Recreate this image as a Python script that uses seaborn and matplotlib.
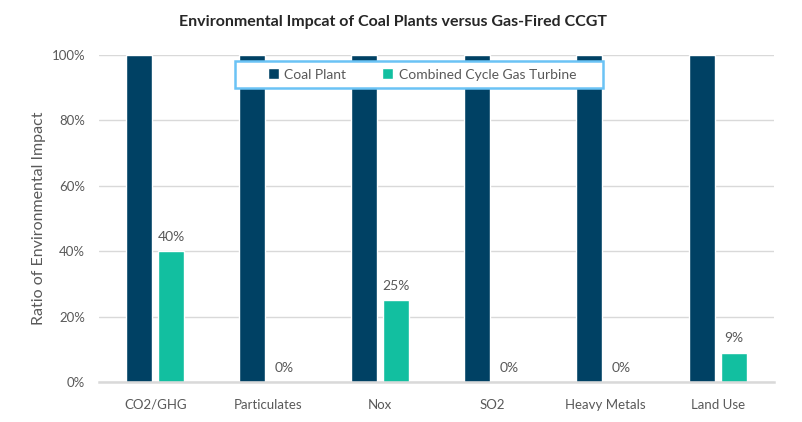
import pandas as pd
import matplotlib.pyplot as plt
import seaborn as sns
from matplotlib.patches import Rectangle
from matplotlib.ticker import PercentFormatter

# data
categories = ["CO2/GHG", "Particulates", "Nox", "SO2", "Heavy Metals", "Land Use"]
coal_plant = [100, 100, 100, 100, 100, 100]
ccgt = [40, 0, 25, 0, 0, 9]
series_names = ["Coal Plant", "Combined Cycle Gas Turbine"]

df = pd.DataFrame({
    "category": categories * 2,
    "value": coal_plant + ccgt,
    "series": [series_names[0]] * len(categories) + [series_names[1]] * len(categories),
})

sns.set_style("white")
plt.rcParams["font.family"] = ["Lato", "DejaVu Sans"]

text_color = "#595959"
palette = {"Coal Plant": "#004164", "Combined Cycle Gas Turbine": "#12BFA0"}

fig = plt.figure(figsize=(8.02, 4.22), dpi=100)
ax = fig.add_axes([99 / 802, 1 - 382 / 422, 675 / 802, 327 / 422])

sns.barplot(
    data=df, x="category", y="value", hue="series", palette=palette,
    width=0.57, gap=0.19, ax=ax, saturation=1, legend=True,
)

# labels only on the gas turbine bars
ax.bar_label(ax.containers[1], labels=[f"{v:.0f}%" for v in ccgt],
             padding=6, fontsize=10, color=text_color)

ax.set_ylim(0, 100)
ax.set_xlim(-0.5, len(categories) - 0.5)
ax.yaxis.set_major_formatter(PercentFormatter(decimals=0))
ax.set_yticks(range(0, 101, 20))
ax.grid(axis="y", color="#D9D9D9", linewidth=1)
ax.set_axisbelow(True)
for side in ["top", "right", "left"]:
    ax.spines[side].set_visible(False)
ax.spines["bottom"].set_color("#D9D9D9")
ax.spines["bottom"].set_linewidth(1.8)

ax.tick_params(axis="both", length=0, labelsize=9.5, colors=text_color, pad=10)
ax.tick_params(axis="x", pad=12)
ax.set_xlabel("")
ax.set_ylabel("Ratio of Environmental Impact", fontsize=11.5, color=text_color, labelpad=4)

fig.suptitle("Environmental Impcat of Coal Plants versus Gas-Fired CCGT",
             x=0.49, y=0.965, fontsize=11.5, fontweight="bold", color="#262626")

# legend box is wider than its contents, so draw the frame separately
frame = Rectangle((235 / 802, 1 - 88 / 422), 368 / 802, 27 / 422,
                  transform=fig.transFigure, facecolor="white",
                  edgecolor="#6BC3F5", linewidth=1.8, zorder=5, clip_on=False)
ax.add_patch(frame)

leg = ax.legend(loc="center", bbox_to_anchor=(422 / 802, 1 - 74.5 / 422),
                bbox_transform=fig.transFigure, ncol=2, frameon=False,
                fontsize=10, handlelength=0.8, handleheight=0.8,
                columnspacing=2.6, handletextpad=0.4)
leg.set_zorder(6)
for t in leg.get_texts():
    t.set_color(text_color)

fig.savefig("out.png", dpi=100)
plt.close(fig)
